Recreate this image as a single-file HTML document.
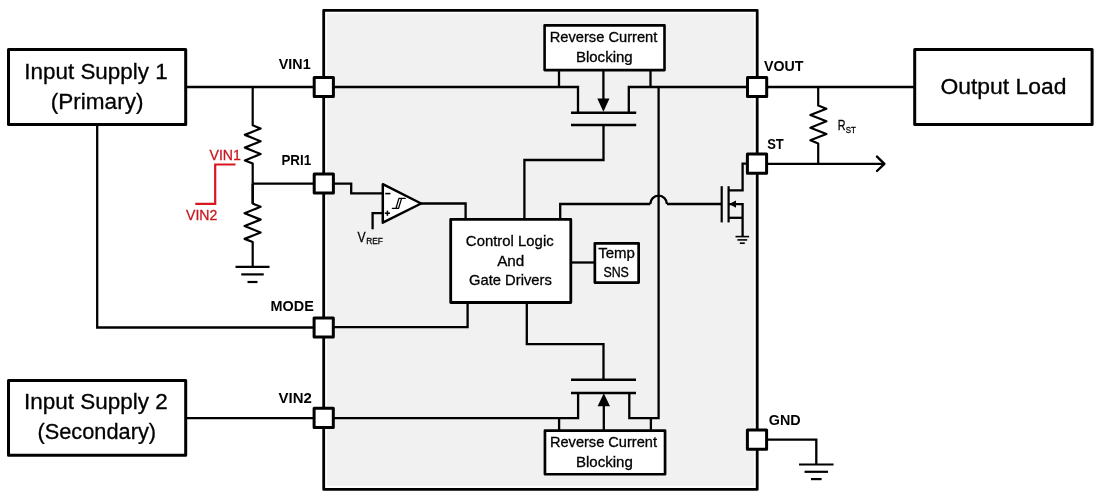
<!DOCTYPE html>
<html><head><meta charset="utf-8"><title>Power Mux Diagram</title>
<style>html,body{margin:0;padding:0;background:#fff;} svg{display:block;} .t{will-change:transform;} text{font-family:"Liberation Sans", sans-serif;}</style>
</head><body>
<svg width="1100" height="499" viewBox="0 0 1100 499">
<rect x="0" y="0" width="1100" height="499" fill="#fff"/>
<rect x="323.70" y="10.30" width="433.50" height="479.10" fill="#fff" stroke="#000" stroke-width="2.8" stroke-linejoin="round"/>
<rect x="327.0" y="13.3" width="426.9" height="472.5" fill="#f1f1f1"/>
<rect x="8.50" y="49.50" width="177.20" height="74.90" fill="#fff" stroke="#000" stroke-width="3" stroke-linejoin="round"/>
<rect x="8.50" y="380.40" width="177.20" height="74.90" fill="#fff" stroke="#000" stroke-width="3" stroke-linejoin="round"/>
<rect x="914.70" y="49.40" width="177.40" height="75.10" fill="#fff" stroke="#000" stroke-width="3" stroke-linejoin="round"/>
<polyline points="186.00,87.00 313.00,87.00" fill="none" stroke="#000" stroke-width="2.3" stroke-linejoin="miter" stroke-linecap="butt"/>
<polyline points="252.70,87.00 252.70,125.30 260.60,128.49 244.90,134.88 260.60,141.26 244.90,147.64 260.60,154.03 244.90,160.41 252.70,163.60 252.70,183.60" fill="none" stroke="#000" stroke-width="2.2" stroke-linejoin="round" stroke-linecap="butt"/>
<polyline points="252.70,183.60 252.70,203.60" fill="none" stroke="#000" stroke-width="2.3" stroke-linejoin="miter" stroke-linecap="butt"/>
<polyline points="252.70,183.60 252.70,203.60 260.60,206.81 244.60,213.22 260.60,219.64 244.60,226.06 260.60,232.47 244.60,238.89 252.70,242.10 252.70,267.00" fill="none" stroke="#000" stroke-width="2.2" stroke-linejoin="round" stroke-linecap="butt"/>
<polyline points="235.50,266.80 269.50,266.80" fill="none" stroke="#000" stroke-width="2.2" stroke-linejoin="miter" stroke-linecap="butt"/>
<polyline points="241.25,274.40 263.75,274.40" fill="none" stroke="#000" stroke-width="2.2" stroke-linejoin="miter" stroke-linecap="butt"/>
<polyline points="247.50,282.00 257.50,282.00" fill="none" stroke="#000" stroke-width="2.2" stroke-linejoin="miter" stroke-linecap="butt"/>
<polyline points="252.70,183.60 313.00,183.60" fill="none" stroke="#000" stroke-width="2.3" stroke-linejoin="miter" stroke-linecap="butt"/>
<polyline points="97.20,125.00 97.20,327.50 313.00,327.50" fill="none" stroke="#000" stroke-width="2.3" stroke-linejoin="miter" stroke-linecap="butt"/>
<polyline points="186.00,418.20 313.00,418.20" fill="none" stroke="#000" stroke-width="2.3" stroke-linejoin="miter" stroke-linecap="butt"/>
<polyline points="195.30,203.80 215.20,203.80 215.20,164.50 235.50,164.50" fill="none" stroke="#d8161e" stroke-width="2.2" stroke-linejoin="miter" stroke-linecap="butt"/>
<polyline points="333.00,87.00 578.00,87.00 578.00,112.70" fill="none" stroke="#000" stroke-width="2.3" stroke-linejoin="miter" stroke-linecap="butt"/>
<polyline points="559.00,70.00 559.00,87.00" fill="none" stroke="#000" stroke-width="2.3" stroke-linejoin="miter" stroke-linecap="butt"/>
<polyline points="650.50,70.00 650.50,87.00" fill="none" stroke="#000" stroke-width="2.3" stroke-linejoin="miter" stroke-linecap="butt"/>
<polyline points="603.40,70.00 603.40,100.00" fill="none" stroke="#000" stroke-width="2.3" stroke-linejoin="miter" stroke-linecap="butt"/>
<polygon points="597.30,98.50 609.50,98.50 603.40,111.80" fill="#000"/>
<polyline points="628.80,112.70 628.80,87.00 747.00,87.00" fill="none" stroke="#000" stroke-width="2.3" stroke-linejoin="miter" stroke-linecap="butt"/>
<polyline points="658.60,87.00 658.60,418.20 629.30,418.20 629.30,393.00" fill="none" stroke="#000" stroke-width="2.3" stroke-linejoin="miter" stroke-linecap="butt"/>
<polyline points="571.00,112.70 636.20,112.70" fill="none" stroke="#000" stroke-width="2.4" stroke-linejoin="miter" stroke-linecap="butt"/>
<polyline points="571.00,125.00 636.20,125.00" fill="none" stroke="#000" stroke-width="2.4" stroke-linejoin="miter" stroke-linecap="butt"/>
<polyline points="603.50,125.00 603.50,160.00 524.40,160.00 524.40,219.00" fill="none" stroke="#000" stroke-width="2.3" stroke-linejoin="miter" stroke-linecap="butt"/>
<rect x="544.60" y="25.40" width="119.90" height="44.70" fill="#fff" stroke="#000" stroke-width="2.6" stroke-linejoin="round"/>
<polyline points="333.00,183.70 351.20,183.70 351.20,193.40 383.00,193.40" fill="none" stroke="#000" stroke-width="2.3" stroke-linejoin="miter" stroke-linecap="butt"/>
<polyline points="372.60,229.30 372.60,213.20 383.00,213.20" fill="none" stroke="#000" stroke-width="2.3" stroke-linejoin="miter" stroke-linecap="butt"/>
<polyline points="421.00,203.50 465.60,203.50 465.60,219.00" fill="none" stroke="#000" stroke-width="2.3" stroke-linejoin="miter" stroke-linecap="butt"/>
<polygon points="382.8,184.2 382.8,222.7 421.1,203.5" fill="#fff" stroke="#000" stroke-width="2.5" stroke-linejoin="round"/>
<polyline points="385.20,193.60 390.40,193.60" fill="none" stroke="#000" stroke-width="1.6" stroke-linejoin="miter" stroke-linecap="butt"/>
<polyline points="384.80,213.20 390.00,213.20" fill="none" stroke="#000" stroke-width="1.5" stroke-linejoin="miter" stroke-linecap="butt"/>
<polyline points="387.40,210.60 387.40,215.80" fill="none" stroke="#000" stroke-width="1.5" stroke-linejoin="miter" stroke-linecap="butt"/>
<path d="M392.3,208.3 H398.6 L401.6,198.4 H405.2 M396.0,208.3 L398.9,198.4 H401.6" fill="none" stroke="#000" stroke-width="1.25" stroke-linejoin="round" stroke-linecap="round"/>
<rect x="450.70" y="219.40" width="120.10" height="83.10" fill="#fff" stroke="#000" stroke-width="2.8" stroke-linejoin="round"/>
<polyline points="560.20,219.00 560.20,204.00 650.30,204.00" fill="none" stroke="#000" stroke-width="2.3" stroke-linejoin="miter" stroke-linecap="butt"/>
<path d="M650.3,204.0 A8.3,8.3 0 0 1 666.9,204.0" fill="none" stroke="#000" stroke-width="2.3"/>
<polyline points="666.90,204.00 721.70,204.00" fill="none" stroke="#000" stroke-width="2.3" stroke-linejoin="miter" stroke-linecap="butt"/>
<rect x="594.85" y="243.35" width="43.80" height="39.20" fill="#fff" stroke="#000" stroke-width="2.7" stroke-linejoin="round"/>
<polyline points="572.00,262.50 594.00,262.50" fill="none" stroke="#000" stroke-width="2.3" stroke-linejoin="miter" stroke-linecap="butt"/>
<polyline points="333.00,327.20 467.60,327.20 467.60,303.00" fill="none" stroke="#000" stroke-width="2.3" stroke-linejoin="miter" stroke-linecap="butt"/>
<polyline points="526.80,303.00 526.80,344.20 603.50,344.20 603.50,379.70" fill="none" stroke="#000" stroke-width="2.3" stroke-linejoin="miter" stroke-linecap="butt"/>
<polyline points="571.00,379.70 636.00,379.70" fill="none" stroke="#000" stroke-width="2.4" stroke-linejoin="miter" stroke-linecap="butt"/>
<polyline points="571.00,393.00 636.00,393.00" fill="none" stroke="#000" stroke-width="2.4" stroke-linejoin="miter" stroke-linecap="butt"/>
<polygon points="597.60,406.20 610.00,406.20 603.80,393.20" fill="#000"/>
<polyline points="603.80,405.00 603.80,430.00" fill="none" stroke="#000" stroke-width="2.3" stroke-linejoin="miter" stroke-linecap="butt"/>
<polyline points="333.00,418.20 578.10,418.20 578.10,393.00" fill="none" stroke="#000" stroke-width="2.3" stroke-linejoin="miter" stroke-linecap="butt"/>
<polyline points="559.10,417.00 559.10,430.00" fill="none" stroke="#000" stroke-width="2.3" stroke-linejoin="miter" stroke-linecap="butt"/>
<polyline points="650.90,417.00 650.90,430.00" fill="none" stroke="#000" stroke-width="2.3" stroke-linejoin="miter" stroke-linecap="butt"/>
<rect x="544.95" y="430.55" width="120.10" height="43.70" fill="#fff" stroke="#000" stroke-width="2.7" stroke-linejoin="round"/>
<polyline points="767.00,87.00 914.00,87.00" fill="none" stroke="#000" stroke-width="2.3" stroke-linejoin="miter" stroke-linecap="butt"/>
<polyline points="818.20,87.00 818.20,105.50 826.40,108.67 810.40,115.00 826.40,121.33 810.40,127.67 826.40,134.00 810.40,140.33 818.20,143.50 818.20,163.50" fill="none" stroke="#000" stroke-width="2.2" stroke-linejoin="round" stroke-linecap="butt"/>
<polyline points="767.00,163.80 884.00,163.80" fill="none" stroke="#000" stroke-width="2.3" stroke-linejoin="miter" stroke-linecap="butt"/>
<polyline points="877.00,156.60 884.40,163.80 877.00,171.00" fill="none" stroke="#000" stroke-width="2.4" stroke-linejoin="round" stroke-linecap="round"/>
<polyline points="767.00,439.70 816.30,439.70 816.30,465.00" fill="none" stroke="#000" stroke-width="2.3" stroke-linejoin="miter" stroke-linecap="butt"/>
<polyline points="799.05,464.50 833.55,464.50" fill="none" stroke="#000" stroke-width="2.2" stroke-linejoin="miter" stroke-linecap="butt"/>
<polyline points="804.55,471.80 828.05,471.80" fill="none" stroke="#000" stroke-width="2.2" stroke-linejoin="miter" stroke-linecap="butt"/>
<polyline points="811.00,479.10 821.60,479.10" fill="none" stroke="#000" stroke-width="2.2" stroke-linejoin="miter" stroke-linecap="butt"/>
<polyline points="747.00,163.60 742.60,163.60 742.60,190.40 728.60,190.40" fill="none" stroke="#000" stroke-width="2.3" stroke-linejoin="miter" stroke-linecap="butt"/>
<polyline points="721.70,186.20 721.70,222.40" fill="none" stroke="#000" stroke-width="2.2" stroke-linejoin="miter" stroke-linecap="butt"/>
<polyline points="728.60,186.20 728.60,222.40" fill="none" stroke="#000" stroke-width="2.2" stroke-linejoin="miter" stroke-linecap="butt"/>
<polyline points="728.60,204.10 742.60,204.10 742.60,237.00" fill="none" stroke="#000" stroke-width="2.3" stroke-linejoin="miter" stroke-linecap="butt"/>
<polyline points="728.60,217.80 742.60,217.80" fill="none" stroke="#000" stroke-width="2.3" stroke-linejoin="miter" stroke-linecap="butt"/>
<polygon points="729.20,204.10 736.00,200.50 736.00,207.70" fill="#000"/>
<polyline points="735.50,236.60 749.10,236.60" fill="none" stroke="#000" stroke-width="1.6" stroke-linejoin="miter" stroke-linecap="butt"/>
<polyline points="737.40,239.90 747.20,239.90" fill="none" stroke="#000" stroke-width="1.6" stroke-linejoin="miter" stroke-linecap="butt"/>
<polyline points="739.80,243.20 744.80,243.20" fill="none" stroke="#000" stroke-width="1.6" stroke-linejoin="miter" stroke-linecap="butt"/>
<rect x="314.20" y="77.40" width="19.20" height="19.20" fill="#fff" stroke="#000" stroke-width="3.0" stroke-linejoin="round"/>
<rect x="314.20" y="173.90" width="19.20" height="19.20" fill="#fff" stroke="#000" stroke-width="3.0" stroke-linejoin="round"/>
<rect x="314.10" y="317.90" width="19.20" height="19.20" fill="#fff" stroke="#000" stroke-width="3.0" stroke-linejoin="round"/>
<rect x="314.10" y="408.30" width="19.20" height="19.20" fill="#fff" stroke="#000" stroke-width="3.0" stroke-linejoin="round"/>
<rect x="747.50" y="77.40" width="19.20" height="19.20" fill="#fff" stroke="#000" stroke-width="3.0" stroke-linejoin="round"/>
<rect x="747.40" y="154.10" width="19.20" height="19.20" fill="#fff" stroke="#000" stroke-width="3.0" stroke-linejoin="round"/>
<rect x="747.40" y="430.10" width="19.20" height="19.20" fill="#fff" stroke="#000" stroke-width="3.0" stroke-linejoin="round"/>
<text class="t" x="24.34" y="79.00" textLength="143.34" lengthAdjust="spacingAndGlyphs" font-size="21.8" font-weight="normal" fill="#000" stroke="#000" stroke-width="0.3">Input Supply 1</text>
<text class="t" x="50.77" y="108.50" textLength="92.68" lengthAdjust="spacingAndGlyphs" font-size="21.8" font-weight="normal" fill="#000" stroke="#000" stroke-width="0.3">(Primary)</text>
<text class="t" x="23.94" y="409.00" textLength="143.75" lengthAdjust="spacingAndGlyphs" font-size="21.8" font-weight="normal" fill="#000" stroke="#000" stroke-width="0.3">Input Supply 2</text>
<text class="t" x="37.50" y="438.50" textLength="118.53" lengthAdjust="spacingAndGlyphs" font-size="21.8" font-weight="normal" fill="#000" stroke="#000" stroke-width="0.3">(Secondary)</text>
<text class="t" x="940.44" y="94.00" textLength="126.01" lengthAdjust="spacingAndGlyphs" font-size="21.5" font-weight="normal" fill="#000" stroke="#000" stroke-width="0.3">Output Load</text>
<text class="t" x="278.80" y="68.70" textLength="31.78" lengthAdjust="spacingAndGlyphs" font-size="15.2" font-weight="bold" fill="#000">VIN1</text>
<text class="t" x="281.42" y="165.10" textLength="29.67" lengthAdjust="spacingAndGlyphs" font-size="15.2" font-weight="bold" fill="#000">PRI1</text>
<text class="t" x="270.54" y="311.30" textLength="43.26" lengthAdjust="spacingAndGlyphs" font-size="15.0" font-weight="bold" fill="#000">MODE</text>
<text class="t" x="278.60" y="403.00" textLength="33.25" lengthAdjust="spacingAndGlyphs" font-size="15.2" font-weight="bold" fill="#000">VIN2</text>
<text class="t" x="764.00" y="70.60" textLength="39.39" lengthAdjust="spacingAndGlyphs" font-size="15.2" font-weight="bold" fill="#000">VOUT</text>
<text class="t" x="767.13" y="149.00" textLength="16.62" lengthAdjust="spacingAndGlyphs" font-size="15.0" font-weight="bold" fill="#000">ST</text>
<text class="t" x="768.74" y="425.30" textLength="31.88" lengthAdjust="spacingAndGlyphs" font-size="15.0" font-weight="bold" fill="#000">GND</text>
<text class="t" x="209.50" y="159.80" textLength="31.44" lengthAdjust="spacingAndGlyphs" font-size="15.0" font-weight="normal" fill="#c81820" stroke="#c81820" stroke-width="0.3">VIN1</text>
<text class="t" x="186.00" y="219.80" textLength="31.34" lengthAdjust="spacingAndGlyphs" font-size="15.0" font-weight="normal" fill="#c81820" stroke="#c81820" stroke-width="0.3">VIN2</text>
<text class="t" x="357.60" y="241.90" textLength="8.12" lengthAdjust="spacingAndGlyphs" font-size="14.5" font-weight="normal" fill="#000" stroke="#000" stroke-width="0.3">V</text>
<text class="t" x="366.15" y="244.00" textLength="16.67" lengthAdjust="spacingAndGlyphs" font-size="9.8" font-weight="normal" fill="#000" stroke="#000" stroke-width="0.3">REF</text>
<text class="t" x="837.64" y="130.20" textLength="7.80" lengthAdjust="spacingAndGlyphs" font-size="14.3" font-weight="normal" fill="#000" stroke="#000" stroke-width="0.3">R</text>
<text class="t" x="845.65" y="132.80" textLength="10.05" lengthAdjust="spacingAndGlyphs" font-size="9.3" font-weight="normal" fill="#000" stroke="#000" stroke-width="0.3">ST</text>
<text class="t" x="549.75" y="42.10" textLength="107.54" lengthAdjust="spacingAndGlyphs" font-size="14" font-weight="normal" fill="#000" stroke="#000" stroke-width="0.3">Reverse Current</text>
<text class="t" x="575.93" y="61.70" textLength="56.76" lengthAdjust="spacingAndGlyphs" font-size="14" font-weight="normal" fill="#000" stroke="#000" stroke-width="0.3">Blocking</text>
<text class="t" x="549.96" y="447.20" textLength="107.03" lengthAdjust="spacingAndGlyphs" font-size="14" font-weight="normal" fill="#000" stroke="#000" stroke-width="0.3">Reverse Current</text>
<text class="t" x="575.92" y="466.80" textLength="56.97" lengthAdjust="spacingAndGlyphs" font-size="14" font-weight="normal" fill="#000" stroke="#000" stroke-width="0.3">Blocking</text>
<text class="t" x="465.89" y="246.20" textLength="87.80" lengthAdjust="spacingAndGlyphs" font-size="14.8" font-weight="normal" fill="#000" stroke="#000" stroke-width="0.3">Control Logic</text>
<text class="t" x="497.20" y="265.60" textLength="27.17" lengthAdjust="spacingAndGlyphs" font-size="14.8" font-weight="normal" fill="#000" stroke="#000" stroke-width="0.3">And</text>
<text class="t" x="469.00" y="285.40" textLength="82.84" lengthAdjust="spacingAndGlyphs" font-size="14.8" font-weight="normal" fill="#000" stroke="#000" stroke-width="0.3">Gate Drivers</text>
<text class="t" x="598.20" y="257.60" textLength="36.74" lengthAdjust="spacingAndGlyphs" font-size="15.2" font-weight="normal" fill="#000" stroke="#000" stroke-width="0.3">Temp</text>
<text class="t" x="603.38" y="276.50" textLength="25.51" lengthAdjust="spacingAndGlyphs" font-size="15.2" font-weight="normal" fill="#000" stroke="#000" stroke-width="0.3">SNS</text>
</svg>
</body></html>
